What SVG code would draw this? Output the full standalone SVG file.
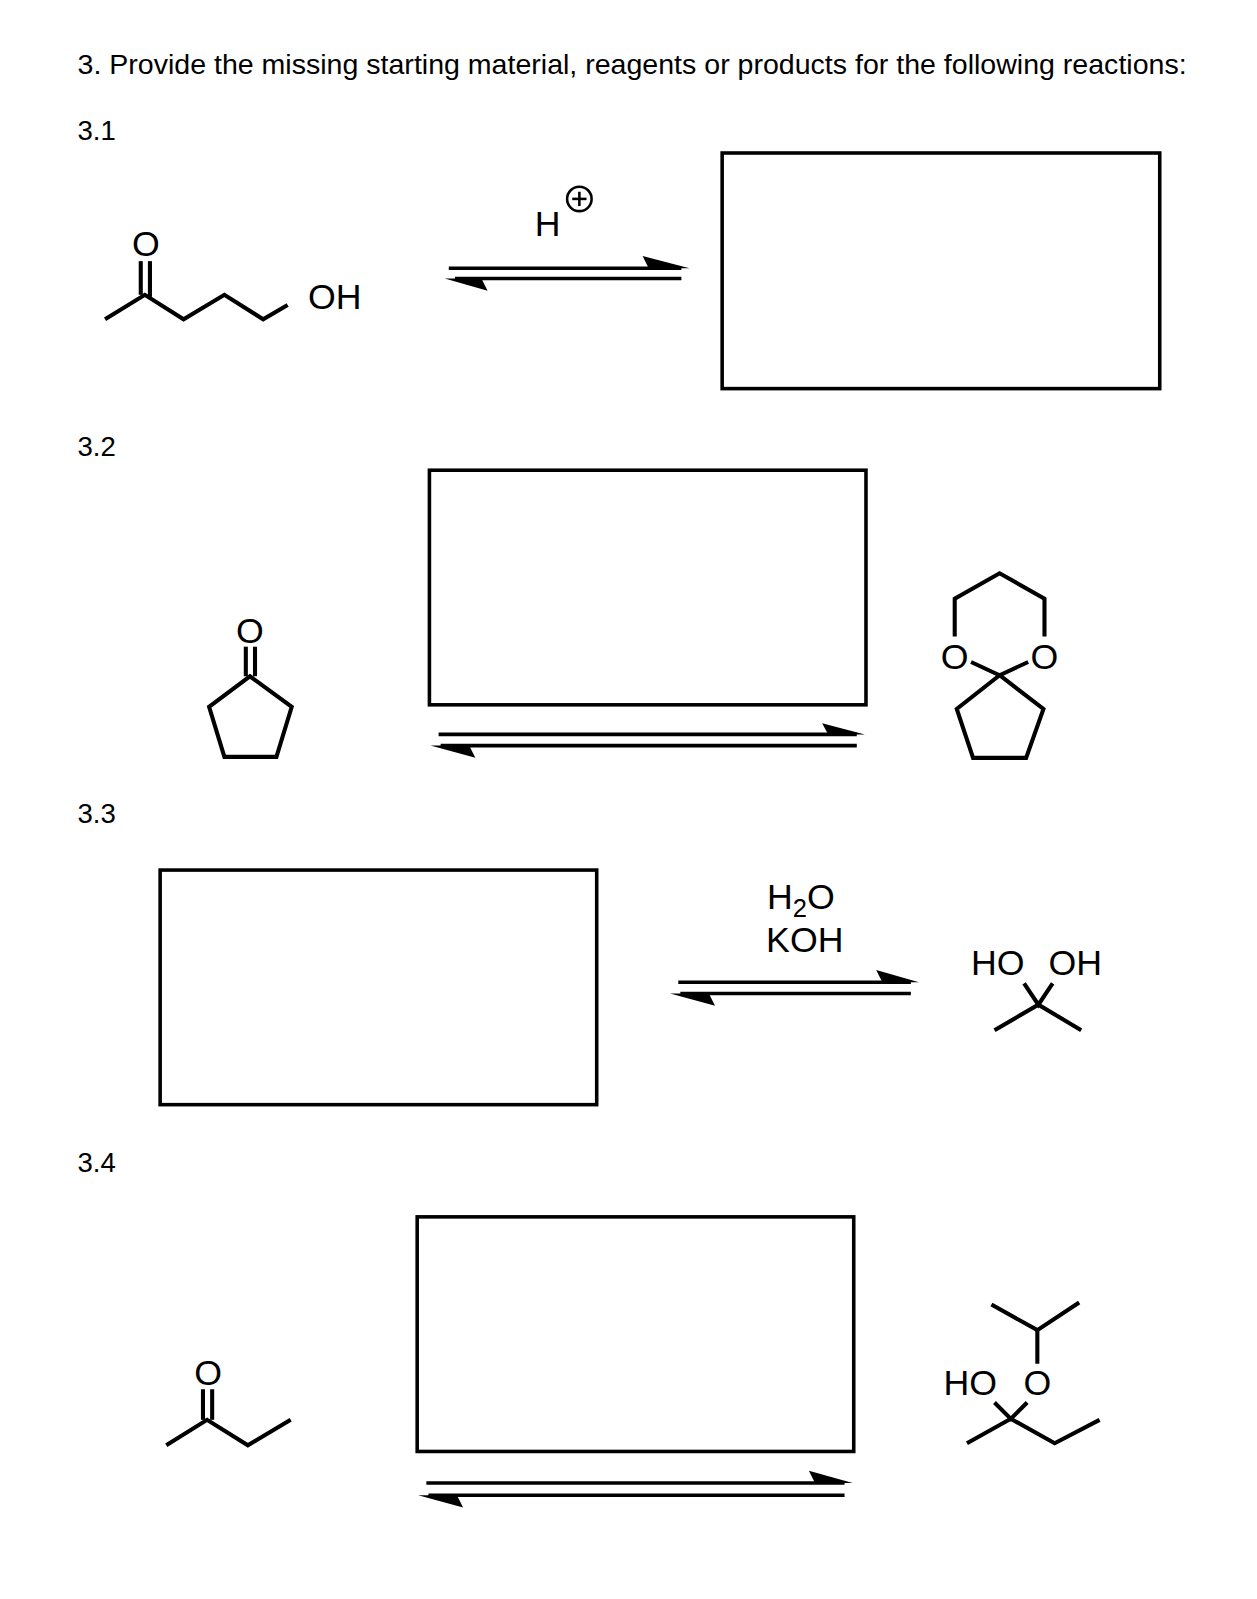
<svg xmlns="http://www.w3.org/2000/svg" width="1257" height="1599" viewBox="0 0 1257 1599">
<style>
text{font-family:"Liberation Sans",Arial,sans-serif;fill:#000}
.t{font-size:28px}.l{font-size:27px}.a{font-size:35px}
.b{fill:none;stroke:#000;stroke-width:4;stroke-linejoin:miter;stroke-linecap:butt}
.box{fill:#fff;stroke:#000;stroke-width:3.5}
.ar{stroke:#000;stroke-width:3.5}
</style>
<rect width="1257" height="1599" fill="#fff"/>
<g transform="scale(1.02)">
<text class="t" x="76" y="73">3. Provide the missing starting material, reagents or products for the following reactions:</text>
<text class="l" x="76" y="137">3.1</text>
<text class="l" x="76" y="447">3.2</text>
<text class="l" x="76" y="807">3.3</text>
<text class="l" x="76" y="1149">3.4</text>

<g id="m31">
<polyline class="b" points="103,313 142,289 180,313 220,289 258,313 282,299"/>
<line class="b" x1="138" y1="289" x2="138" y2="256"/><line class="b" x1="147" y1="291" x2="147" y2="256"/>
<text class="a" x="143" y="251" text-anchor="middle">O</text>
<text class="a" x="302" y="303">OH</text>
</g>
<g id="box1"><rect class="box" x="708" y="150" width="429" height="231"/></g>
<g id="r31">
<text class="a" x="537" y="231" text-anchor="middle">H</text>
<circle cx="568" cy="195" r="12" fill="none" stroke="#000" stroke-width="2.5"/>
<line x1="561" y1="195" x2="575" y2="195" stroke="#000" stroke-width="2.5"/><line x1="568" y1="188" x2="568" y2="202" stroke="#000" stroke-width="2.5"/>
</g>

<g id="m32a">
<polygon class="b" points="245,663 286,693 271,742 220,742 205,693"/>
<line class="b" x1="241" y1="663" x2="241" y2="634"/><line class="b" x1="250" y1="663" x2="250" y2="634"/>
<text class="a" x="245" y="630" text-anchor="middle">O</text>
</g>
<g id="box2"><rect class="box" x="421" y="461" width="428" height="230"/></g>
<g id="m32b">
<polyline class="b" points="936,624 936,587 980,562 1024,587 1024,624"/>
<polyline class="b" points="952,649 980,662 1008,649"/>
<polygon class="b" points="980,662 1023,695 1006,743 954,743 938,695"/>
<text class="a" x="936" y="656" text-anchor="middle">O</text>
<text class="a" x="1024" y="656" text-anchor="middle">O</text>
</g>

<g id="box3"><rect class="box" x="157" y="853" width="428" height="230"/></g>
<g id="r33">
<text class="a" x="752" y="891">H<tspan font-size="25" dy="8">2</tspan><tspan dy="-8">O</tspan></text>
<text class="a" x="789" y="933" text-anchor="middle">KOH</text>
</g>
<g id="m33">
<text class="a" x="952" y="956">HO</text><text class="a" x="1028" y="956">OH</text>
<polyline class="b" points="1004,964 1018,985 1032,964"/>
<polyline class="b" points="975,1010 1018,985 1060,1010"/>
</g>

<g id="m34a">
<polyline class="b" points="163,1417 203,1392 243,1417 285,1392"/>
<line class="b" x1="199" y1="1392" x2="199" y2="1362"/><line class="b" x1="208" y1="1392" x2="208" y2="1362"/>
<text class="a" x="204" y="1358" text-anchor="middle">O</text>
</g>
<g id="box4"><rect class="box" x="409" y="1193" width="428" height="230"/></g>
<g id="m34b">
<polyline class="b" points="972,1279 1017,1304 1058,1277"/>
<line class="b" x1="1017" y1="1304" x2="1017" y2="1337"/>
<text class="a" x="1017" y="1368" text-anchor="middle">O</text>
<text class="a" x="925" y="1368">HO</text>
<polyline class="b" points="975,1375 991,1391 1007,1375"/>
<polyline class="b" points="948,1415 991,1391 1034,1415 1078,1392"/>
</g>

<g id="connectors">
<line class="ar" x1="440" y1="263" x2="668" y2="263"/><polygon points="676,263 630,251 636,263"/>
<line class="ar" x1="446" y1="273" x2="668" y2="273"/><polygon points="436,273 478,285 472,273"/>
<line class="ar" x1="430" y1="720" x2="840" y2="720"/><polygon points="848,720 806,709 812,720"/>
<line class="ar" x1="432" y1="731" x2="840" y2="731"/><polygon points="422,731 466,743 460,731"/>
<line class="ar" x1="665" y1="963" x2="893" y2="963"/><polygon points="901,963 859,951 865,963"/>
<line class="ar" x1="667" y1="974" x2="893" y2="974"/><polygon points="657,974 701,986 695,974"/>
<line class="ar" x1="418" y1="1454" x2="828" y2="1454"/><polygon points="836,1454 793,1442 799,1454"/>
<line class="ar" x1="420" y1="1466" x2="828" y2="1466"/><polygon points="410,1466 454,1478 448,1466"/>
</g>
</g>
</svg>
